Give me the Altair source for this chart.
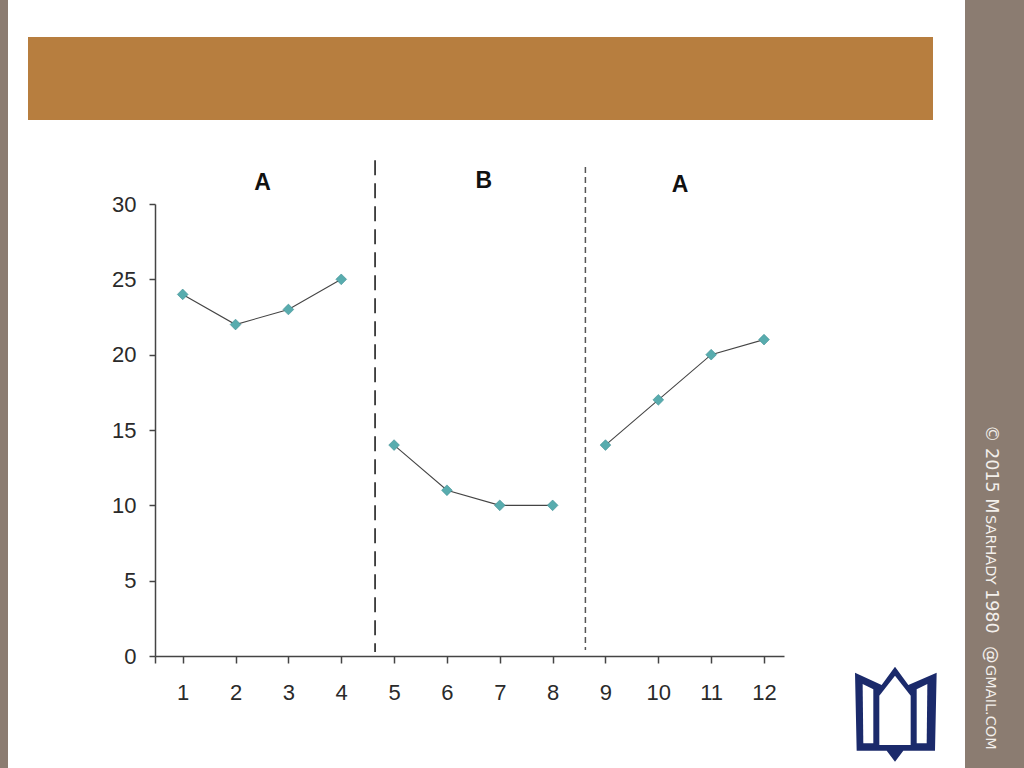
import altair as alt
import pandas as pd

# ---- data ----
sessions = list(range(1, 13))
scores = [24, 22, 23, 25, 14, 11, 10, 10, 14, 17, 20, 21]
phases = ["A1"] * 4 + ["B"] * 4 + ["A2"] * 4

phase_labels = ["A", "B", "A"]
phase_label_x = [2.51, 6.70, 10.41]
phase_label_y = [31.4, 31.5, 31.25]

divider_x = [4.64, 8.62]
divider_top = [32.9, 32.45]
divider_bottom = [0.27, 0.4]

x_ticks = [0.476] + sessions
y_ticks = [0, 5, 10, 15, 20, 25, 30]

df = pd.DataFrame({"session": sessions, "score": scores, "phase": phases})
lab = pd.DataFrame({"x": phase_label_x, "y": phase_label_y, "t": phase_labels})
div1 = pd.DataFrame({"x": [divider_x[0]], "y": [divider_top[0]], "y2": [divider_bottom[0]]})
div2 = pd.DataFrame({"x": [divider_x[1]], "y": [divider_top[1]], "y2": [divider_bottom[1]]})
dummy = pd.DataFrame({"d": [0]})

xs = alt.Scale(domain=[0.476, 12.378], nice=False, zero=False)
ys = alt.Scale(domain=[0, 30], nice=False)

FONT = "Liberation Sans"

x_axis = alt.Axis(
    values=x_ticks, title=None, grid=False,
    labelExpr="datum.value < 1 ? '' : format(datum.value, 'd')",
    labelFont=FONT, labelFontSize=22, labelColor="#2a2a2a", labelPadding=19,
    tickSize=7, tickColor="#444", tickWidth=1.5,
    domainColor="#444", domainWidth=1.5, labelOverlap=False,
)
y_axis = alt.Axis(
    values=y_ticks, title=None, grid=False,
    labelFont=FONT, labelFontSize=22, labelColor="#2a2a2a", labelPadding=13,
    tickSize=6, tickColor="#444", tickWidth=1.5,
    domainColor="#444", domainWidth=1.5, labelOverlap=False,
)

base = alt.Chart(df)

line = base.mark_line(color="#444444", strokeWidth=1.1).encode(
    x=alt.X("session:Q", scale=xs, axis=x_axis),
    y=alt.Y("score:Q", scale=ys, axis=y_axis),
    detail="phase:N",
)
pts = base.mark_point(
    shape="diamond", size=115, filled=True, fill="#58acae",
    stroke="#3f8f93", strokeWidth=0.6, opacity=1,
).encode(x=alt.X("session:Q", scale=xs), y=alt.Y("score:Q", scale=ys))

labels = alt.Chart(lab).mark_text(
    font=FONT, fontSize=23, fontWeight="bold", color="#111"
).encode(x=alt.X("x:Q", scale=xs), y=alt.Y("y:Q", scale=ys), text="t:N")

d1 = alt.Chart(div1).mark_rule(color="#111", strokeWidth=1.5, strokeDash=[15, 8]).encode(
    x=alt.X("x:Q", scale=xs), y=alt.Y("y:Q", scale=ys), y2="y2:Q"
)
d2 = alt.Chart(div2).mark_rule(color="#555", strokeWidth=1.5, strokeDash=[6, 4]).encode(
    x=alt.X("x:Q", scale=xs), y=alt.Y("y:Q", scale=ys), y2="y2:Q"
)

# ---- slide decorations (pixel offsets relative to plot origin at 155,204) ----
deco = alt.Chart(dummy)
header = deco.mark_rect(color="#b77e3f").encode(
    x=alt.value(-127), x2=alt.value(778), y=alt.value(-167), y2=alt.value(-84)
)
left_strip = deco.mark_rect(color="#8b7c71").encode(
    x=alt.value(-155), x2=alt.value(-147), y=alt.value(-204), y2=alt.value(564)
)
right_band = deco.mark_rect(color="#8b7c71").encode(
    x=alt.value(810), x2=alt.value(869), y=alt.value(-204), y2=alt.value(564)
)

TF = "DejaVu Sans"
BIG, SMALL = 17.5, 14.5
segs = [("© 2015 M", BIG, 221), ("SARHADY", SMALL, 311),
        ("1980", BIG, 385), ("@", BIG, 442), ("GMAIL.COM", SMALL, 461)]
texts = []
for s, fs, yy in segs:
    texts.append(
        deco.mark_text(text=s, angle=90, align="left", baseline="alphabetic",
                       font=TF, fontSize=fs, color="#f3efeb").encode(
            x=alt.value(831), y=alt.value(yy)
        )
    )

outer = ("M-0.842,-0.874L-0.281,-0.614L0,-1L0.281,-0.614L0.877,-0.874"
         "L0.842,0.768L0.175,0.768L0,1L-0.175,0.768L-0.807,0.768Z")
inner_l = "M-0.681,-0.635L-0.456,-0.523L-0.456,0.614L-0.667,0.614Z"
inner_m = "M-0.33,0.649L-0.33,-0.386L0,-0.807L0.33,-0.386L0.33,0.649Z"
inner_r = "M0.456,-0.523L0.681,-0.635L0.667,0.614L0.456,0.614Z"
LX, LY, LS = 740, 510.2, 9025
logo = [
    deco.mark_point(shape=outer, size=LS, filled=True, fill="#1b2a6b", opacity=1, strokeWidth=0).encode(
        x=alt.value(LX), y=alt.value(LY)),
]
for p in (inner_l, inner_m, inner_r):
    logo.append(deco.mark_point(shape=p, size=LS, filled=True, fill="white", opacity=1, strokeWidth=0).encode(
        x=alt.value(LX), y=alt.value(LY)))

chart = alt.layer(
    header, left_strip, right_band, *texts, *logo, d1, d2, line, pts, labels
).properties(
    width=629, height=452,
    autosize=alt.AutoSizeParams(type="none"),
    padding={"left": 155, "top": 204, "right": 240, "bottom": 112},
    background="white",
).configure_view(stroke=None)

chart.save("out.html", embed_options={"renderer": "svg", "actions": False})
